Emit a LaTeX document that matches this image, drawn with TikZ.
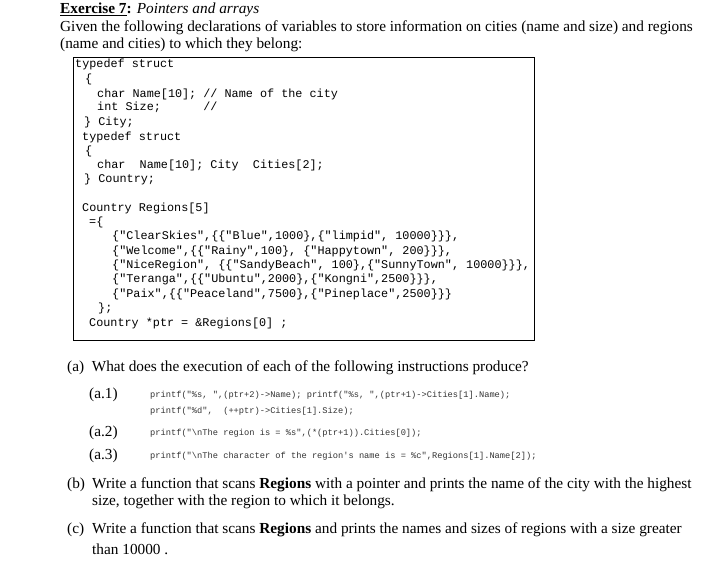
\documentclass[tikz,border=0pt]{standalone}
\usepackage{fontspec}
\setmainfont{Liberation Serif}
\setmonofont{Liberation Mono}
\begin{document}
\begin{tikzpicture}[x=1pt,y=-1pt,
  txt/.style={anchor=west,inner sep=0pt,font=\fontsize{15.3}{17}\selectfont},
  code/.style={anchor=west,inner sep=0pt,font=\fontsize{11.8}{13}\ttfamily},
  qcode/.style={anchor=west,inner sep=0pt,font=\fontsize{8.7}{11}\ttfamily,text=black!80}]
\useasboundingbox (0,0) rectangle (714,582);
\node[txt] (t1) at (60,10) {\textbf{\underline{Exercise 7}:} \textit{Pointers and arrays}};
\node[txt] (t2) at (60,28) {Given the following declarations of variables to store information on cities (name and size) and regions};
\node[txt] (t3) at (60,45) {(name and cities) to which they belong:};
\draw[line width=0.8pt] (73,57) rectangle (534,340);
\node[code] (c1) at (75,64) {typedef struct};
\node[code] (c2) at (85,79) {\{};
\node[code] (c3) at (97,94) {char Name[10]; // Name of the city};
\node[code] (c4) at (97,107) {int Size;\ \ \ \ \ \ //};
\node[code] (c5) at (84,122) {\} City;};
\node[code] (c6) at (82,137) {typedef struct};
\node[code] (c7) at (85,151) {\{};
\node[code] (c8) at (97,165) {char\ \ Name[10]; City\ \ Cities[2];};
\node[code] (c9) at (84,179) {\} Country;};
\node[code] (c10) at (82,208) {Country Regions[5]};
\node[code] (c11) at (89,222) {=\{};
\node[code] (c12) at (112,236) {\{"ClearSkies",\{\{"Blue",1000\},\{"limpid", 10000\}\}\},};
\node[code] (c13) at (112,251) {\{"Welcome",\{\{"Rainy",100\}, \{"Happytown", 200\}\}\},};
\node[code] (c14) at (112,265) {\{"NiceRegion", \{\{"SandyBeach", 100\},\{"SunnyTown", 10000\}\}\},};
\node[code] (c15) at (112,279) {\{"Teranga",\{\{"Ubuntu",2000\},\{"Kongni",2500\}\}\},};
\node[code] (c16) at (112,294) {\{"Paix",\{\{"Peaceland",7500\},\{"Pineplace",2500\}\}\}};
\node[code] (c17) at (98,308) {\};};
\node[code] (c18) at (89,323) {Country *ptr = \&Regions[0] ;};
\node[txt] (qa) at (67,368) {(a)\ \ What does the execution of each of the following instructions produce?};
\node[txt] (qa1) at (89,395) {(a.1)};
\node[qcode] (qa1c) at (150,395) {printf("\%s, ",(ptr+2)->Name); printf("\%s, ",(ptr+1)->Cities[1].Name);};
\node[qcode] (qa1d) at (150,411) {printf("\%d",\ \ (++ptr)->Cities[1].Size);};
\node[txt] (qa2) at (89,433) {(a.2)};
\node[qcode] (qa2c) at (150,433) {printf("\textbackslash nThe region is = \%s",(*(ptr+1)).Cities[0]);};
\node[txt] (qa3) at (89,456) {(a.3)};
\node[qcode] (qa3c) at (150,456) {printf("\textbackslash nThe character of the region's name is = \%c",Regions[1].Name[2]);};
\node[txt] (qb) at (67,485) {(b)};
\node[txt] (qb1) at (92,485) {Write a function that scans \textbf{Regions} with a pointer and prints the name of the city with the highest};
\node[txt] (qb2) at (92,502) {size, together with the region to which it belongs.};
\node[txt] (qc) at (67,530) {(c)};
\node[txt] (qc1) at (92,530) {Write a function that scans \textbf{Regions} and prints the names and sizes of regions with a size greater};
\node[txt] (qc2) at (92,549) {than 10000 .};
\end{tikzpicture}
\end{document}
